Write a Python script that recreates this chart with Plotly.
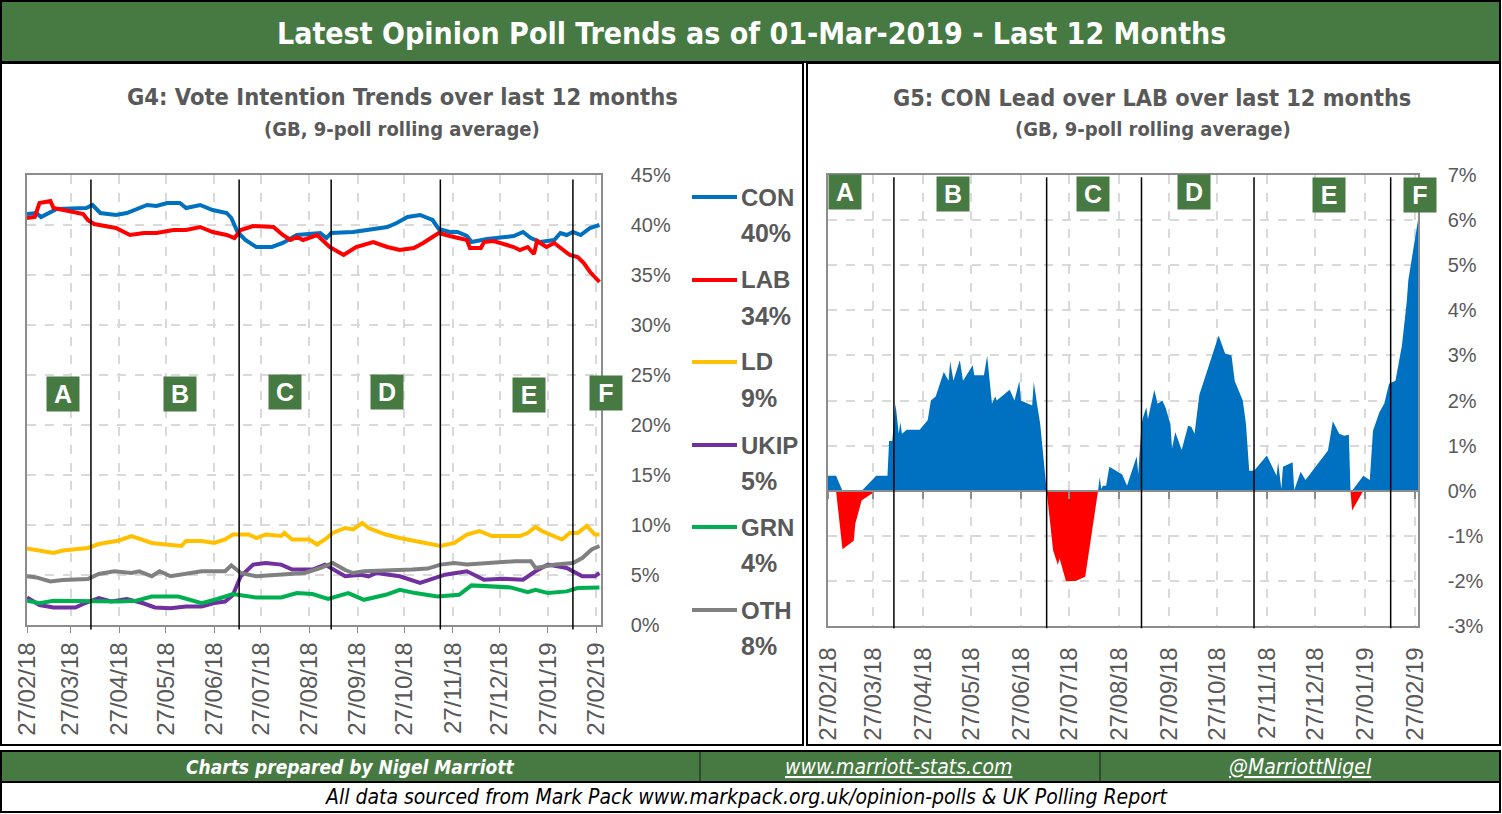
import plotly.graph_objects as go

# ---------------- DATA ----------------
tick_dates = ["2018-02-27", "2018-03-27", "2018-04-27", "2018-05-27", "2018-06-27",
              "2018-07-27", "2018-08-27", "2018-09-27", "2018-10-27", "2018-11-27",
              "2018-12-27", "2019-01-27", "2019-02-27"]
phase_dates = ["2018-04-09", "2018-07-13", "2018-09-10", "2018-11-19", "2019-02-12"]
phase_labels = ["A", "B", "C", "D", "E", "F"]
lead_ticks = [-3, -2, -1, 0, 1, 2, 3, 4, 5, 6, 7]

con_dates = ["2018-02-27", "2018-03-05", "2018-03-08", "2018-03-18", "2018-04-06", "2018-04-10",
             "2018-04-15", "2018-04-25", "2018-05-02", "2018-05-08", "2018-05-15", "2018-05-21",
             "2018-05-28", "2018-06-05", "2018-06-09", "2018-06-18", "2018-06-26", "2018-07-05",
             "2018-07-08", "2018-07-12", "2018-07-17", "2018-07-24", "2018-08-03", "2018-08-10",
             "2018-08-19", "2018-09-03", "2018-09-07", "2018-09-10", "2018-09-24", "2018-10-03",
             "2018-10-16", "2018-10-22", "2018-10-29", "2018-11-06", "2018-11-14", "2018-11-18",
             "2018-11-25", "2018-11-30", "2018-12-06", "2018-12-09", "2018-12-19", "2019-01-05",
             "2019-01-11", "2019-01-16", "2019-01-22", "2019-01-31", "2019-02-04", "2019-02-08",
             "2019-02-12", "2019-02-17", "2019-02-23", "2019-03-01"]
con_vals = [41.1, 41.2, 40.8, 41.6, 41.7, 42.0, 41.2, 41.0, 41.2, 41.6, 42.0, 41.9,
            42.2, 42.2, 41.7, 42.0, 41.5, 41.2, 40.7, 39.3, 38.5, 37.8, 37.8, 38.2,
            39.0, 39.2, 38.7, 39.2, 39.3, 39.5, 39.8, 40.2, 40.8, 41.0, 40.5, 39.6,
            39.3, 39.3, 38.9, 38.3, 38.6, 38.9, 39.3, 38.7, 38.3, 38.5, 39.2, 39.0,
            39.3, 39.0, 39.7, 40.0]

lab_dates = ["2018-02-27", "2018-03-04", "2018-03-07", "2018-03-14", "2018-03-16", "2018-04-04",
             "2018-04-07", "2018-04-11", "2018-04-25", "2018-05-04", "2018-05-13", "2018-05-21",
             "2018-06-01", "2018-06-09", "2018-06-18", "2018-06-26", "2018-07-05", "2018-07-10",
             "2018-07-14", "2018-07-22", "2018-08-04", "2018-08-10", "2018-08-15", "2018-08-19",
             "2018-08-23", "2018-09-01", "2018-09-09", "2018-09-18", "2018-09-26", "2018-10-07",
             "2018-10-16", "2018-10-24", "2018-11-02", "2018-11-08", "2018-11-15", "2018-11-18",
             "2018-11-25", "2018-12-06", "2018-12-08", "2018-12-15", "2018-12-17", "2018-12-23",
             "2019-01-05", "2019-01-09", "2019-01-14", "2019-01-18", "2019-01-20", "2019-01-26",
             "2019-01-31", "2019-02-04", "2019-02-10", "2019-02-15", "2019-02-19", "2019-02-23",
             "2019-03-01"]
lab_vals = [40.7, 40.8, 42.2, 42.4, 41.7, 41.1, 40.5, 40.1, 39.7, 39.0, 39.2, 39.2,
            39.5, 39.5, 39.8, 39.3, 39.0, 38.7, 39.5, 39.9, 39.8, 39.0, 38.5, 38.8,
            38.5, 39.0, 37.8, 37.0, 37.8, 38.3, 37.8, 37.5, 37.7, 38.2, 38.9, 39.2,
            38.9, 38.5, 37.7, 37.7, 38.3, 38.4, 37.8, 37.5, 37.8, 37.1, 38.4, 37.8,
            38.2, 37.7, 37.0, 36.8, 36.2, 35.3, 34.3]

ld_dates = ["2018-02-27", "2018-03-07", "2018-03-16", "2018-03-22", "2018-04-07", "2018-04-14",
            "2018-04-27", "2018-05-05", "2018-05-18", "2018-05-27", "2018-06-06", "2018-06-09",
            "2018-06-19", "2018-06-27", "2018-07-04", "2018-07-09", "2018-07-19", "2018-07-24",
            "2018-07-30", "2018-08-09", "2018-08-11", "2018-08-16", "2018-08-27", "2018-09-01",
            "2018-09-06", "2018-09-11", "2018-09-19", "2018-09-24", "2018-09-30", "2018-10-04",
            "2018-10-15", "2018-10-24", "2018-11-03", "2018-11-19", "2018-11-28", "2018-12-06",
            "2018-12-14", "2018-12-22", "2019-01-09", "2019-01-14", "2019-01-19", "2019-01-23",
            "2019-02-05", "2019-02-10", "2019-02-15", "2019-02-21", "2019-02-26", "2019-03-01"]
ld_vals = [7.65, 7.4, 7.2, 7.45, 7.7, 8.1, 8.45, 8.9, 8.2, 8.05, 7.9, 8.4,
           8.4, 8.2, 8.55, 9.05, 9.05, 8.7, 9.05, 8.9, 9.2, 8.55, 8.55, 8.05,
           8.55, 9.2, 9.7, 9.55, 10.2, 9.7, 9.05, 8.7, 8.4, 7.9, 8.2, 9.05,
           9.4, 8.9, 8.9, 9.2, 9.8, 9.4, 8.55, 9.2, 9.2, 9.9, 9.05, 9.05]

ukip_dates = ["2018-02-27", "2018-03-07", "2018-03-16", "2018-03-30", "2018-04-04", "2018-04-14",
              "2018-04-22", "2018-05-02", "2018-05-12", "2018-05-20", "2018-05-30", "2018-06-09",
              "2018-06-19", "2018-06-27", "2018-07-04", "2018-07-09", "2018-07-14", "2018-07-22",
              "2018-07-30", "2018-08-09", "2018-08-16", "2018-08-29", "2018-09-06", "2018-09-13",
              "2018-09-19", "2018-09-29", "2018-10-04", "2018-10-09", "2018-10-24", "2018-11-06",
              "2018-11-17", "2018-11-22", "2018-12-06", "2018-12-17", "2018-12-29", "2019-01-11",
              "2019-01-19", "2019-01-27", "2019-02-08", "2019-02-18", "2019-02-26", "2019-03-01"]
ukip_vals = [2.75, 2.0, 1.75, 1.75, 2.1, 2.7, 2.35, 2.6, 2.2, 1.75, 1.68, 1.85,
             1.85, 2.2, 2.35, 3.0, 4.87, 6.04, 6.2, 6.04, 5.54, 5.54, 6.04, 5.37,
             4.87, 5.03, 4.87, 5.2, 4.87, 4.2, 4.7, 5.03, 5.37, 4.53, 4.63, 4.53,
             5.37, 6.04, 5.7, 4.87, 4.87, 5.2]

grn_dates = ["2018-02-27", "2018-03-07", "2018-03-16", "2018-04-04", "2018-04-27", "2018-05-08",
             "2018-05-18", "2018-06-04", "2018-06-19", "2018-06-29", "2018-07-09", "2018-07-24",
             "2018-08-09", "2018-08-19", "2018-08-29", "2018-09-08", "2018-09-21", "2018-10-01",
             "2018-10-15", "2018-10-24", "2018-11-03", "2018-11-17", "2018-12-01", "2018-12-09",
             "2019-01-03", "2019-01-14", "2019-01-19", "2019-01-27", "2019-02-08", "2019-02-15",
             "2019-03-01"]
grn_vals = [2.42, 2.18, 2.42, 2.35, 2.35, 2.42, 2.85, 2.85, 2.18, 2.6, 3.09, 2.75,
            2.75, 3.19, 3.09, 2.6, 3.19, 2.52, 3.02, 3.52, 3.19, 2.85, 3.02, 3.96,
            3.76, 3.29, 3.52, 3.19, 3.36, 3.69, 3.76]

oth_dates = ["2018-02-27", "2018-03-05", "2018-03-14", "2018-03-22", "2018-04-07", "2018-04-14",
             "2018-04-24", "2018-05-05", "2018-05-10", "2018-05-18", "2018-05-23", "2018-05-30",
             "2018-06-19", "2018-07-04", "2018-07-08", "2018-07-14", "2018-07-24", "2018-08-14",
             "2018-08-24", "2018-09-03", "2018-09-11", "2018-09-19", "2018-09-24", "2018-10-01",
             "2018-10-19", "2018-11-01", "2018-11-11", "2018-11-19", "2018-11-28", "2018-12-06",
             "2019-01-06", "2019-01-16", "2019-01-19", "2019-02-01", "2019-02-12", "2019-02-18",
             "2019-02-24", "2019-03-01"]
oth_vals = [4.87, 4.76, 4.36, 4.5, 4.6, 5.1, 5.37, 5.2, 5.37, 4.87, 5.37, 4.87,
            5.37, 5.37, 5.97, 5.2, 4.87, 5.03, 5.2, 5.7, 6.2, 5.5, 5.2, 5.37,
            5.44, 5.54, 5.64, 6.04, 6.2, 6.04, 6.38, 6.38, 5.7, 6.04, 6.2, 6.7,
            7.55, 7.9]

lead_dates = ["2018-02-27", "2018-03-04", "2018-03-08", "2018-03-15", "2018-03-16", "2018-03-20",
              "2018-03-29", "2018-04-05", "2018-04-06", "2018-04-08", "2018-04-10", "2018-04-12",
              "2018-04-13", "2018-04-14", "2018-04-17", "2018-04-25", "2018-04-30", "2018-05-02",
              "2018-05-05", "2018-05-10", "2018-05-13", "2018-05-14", "2018-05-16", "2018-05-20",
              "2018-05-22", "2018-05-28", "2018-05-29", "2018-06-04", "2018-06-06", "2018-06-07",
              "2018-06-09", "2018-06-11", "2018-06-12", "2018-06-20", "2018-06-23", "2018-06-26",
              "2018-06-27", "2018-07-04", "2018-07-05", "2018-07-07", "2018-07-09", "2018-07-13",
              "2018-07-15", "2018-07-17", "2018-07-20", "2018-07-21", "2018-07-25", "2018-07-31",
              "2018-08-06", "2018-08-11", "2018-08-14", "2018-08-15", "2018-08-16", "2018-08-17",
              "2018-08-19", "2018-08-21", "2018-08-29", "2018-09-01", "2018-09-07", "2018-09-08",
              "2018-09-10", "2018-09-11", "2018-09-13", "2018-09-14", "2018-09-18", "2018-09-20",
              "2018-09-23", "2018-09-25", "2018-09-28", "2018-09-29", "2018-10-01", "2018-10-05",
              "2018-10-09", "2018-10-11", "2018-10-13", "2018-10-16", "2018-10-23", "2018-10-28",
              "2018-11-01", "2018-11-05", "2018-11-07", "2018-11-12", "2018-11-14", "2018-11-16",
              "2018-11-19", "2018-11-27", "2018-12-03", "2018-12-04", "2018-12-06", "2018-12-07",
              "2018-12-13", "2018-12-14", "2018-12-18", "2018-12-21", "2019-01-04", "2019-01-07",
              "2019-01-11", "2019-01-14", "2019-01-17", "2019-01-18", "2019-01-19", "2019-01-26",
              "2019-01-30", "2019-02-01", "2019-02-05", "2019-02-08", "2019-02-11", "2019-02-15",
              "2019-02-19", "2019-02-22", "2019-02-23", "2019-03-01"]
lead_vals = [0.33, 0.33, -1.30, -1.11, -0.73, -0.21,
             0.33, 0.33, 1.10, 1.10, 1.93, 1.26,
             1.52, 1.26, 1.35, 1.35, 1.56, 2.00,
             2.09, 2.63, 2.44, 2.87, 2.44, 2.89,
             2.44, 2.78, 2.56, 2.56, 2.99, 2.67,
             1.93, 2.09, 2.00, 2.24, 2.00, 2.43,
             2.00, 1.89, 2.41, 1.93, 1.48, 0.00,
             -0.65, -1.32, -1.65, -1.50, -2.00, -2.00,
             -1.91, -0.65, 0.00, 0.30, 0.04, 0.11,
             0.11, 0.53, 0.36, 0.11, 0.76, 0.37,
             1.48, 1.63, 1.85, 1.59, 2.24, 1.93,
             2.00, 1.84, 1.48, 0.93, 1.30, 0.90,
             1.44, 1.42, 1.26, 2.13, 2.89, 3.44,
             3.04, 3.00, 2.43, 2.00, 1.48, 0.44,
             0.44, 0.78, 0.33, 0.63, 0.04, 0.53,
             0.63, 0.01, 0.42, 0.24, 0.89, 1.54,
             1.26, 1.22, 1.24, 0.00, -0.44, 0.33,
             0.24, 1.33, 1.74, 1.93, 2.37, 2.44,
             3.22, 4.19, 4.67, 6.00]

parties = ["CON", "LAB", "LD", "UKIP", "GRN", "OTH"]
party_dates = [con_dates, lab_dates, ld_dates, ukip_dates, grn_dates, oth_dates]
party_vals = [con_vals, lab_vals, ld_vals, ukip_vals, grn_vals, oth_vals]
party_colors = ["#0070C0", "#FF0000", "#FFC000", "#7030A0", "#00B050", "#808080"]

# ---------------- LAYOUT HELPERS ----------------
W, H = 1502, 814
def px(x):
    return x / W
def py(y):
    return 1 - y / H

GREEN = "#467A42"
GREY_TXT = "#595959"
GRID = "#D9D9D9"
BORDER = "#8C8C8C"
NARROW = "Liberation Sans Narrow, DejaVu Sans Condensed, Arial Narrow, sans-serif"
REG = "Liberation Sans, Arial, sans-serif"

fig = go.Figure()

for name, d, v, c in zip(parties, party_dates, party_vals, party_colors):
    fig.add_trace(go.Scatter(x=d, y=v, mode="lines", name=name,
                             line=dict(color=c, width=4), xaxis="x", yaxis="y",
                             hoverinfo="skip"))

lead_pos = [max(v, 0) for v in lead_vals]
lead_neg = [min(v, 0) for v in lead_vals]
fig.add_trace(go.Scatter(x=lead_dates, y=lead_pos, mode="lines", fill="tozeroy",
                         fillcolor="#0070C0", line=dict(width=0, color="#0070C0"),
                         xaxis="x2", yaxis="y2", hoverinfo="skip"))
fig.add_trace(go.Scatter(x=lead_dates, y=lead_neg, mode="lines", fill="tozeroy",
                         fillcolor="#FF0000", line=dict(width=0, color="#FF0000"),
                         xaxis="x3", yaxis="y2", hoverinfo="skip"))

L_DOM_X = [px(27), px(601)]
L_DOM_Y = [py(625), py(175)]
R_DOM_X = [px(828), px(1418)]
R_DOM_Y = [py(626), py(175)]
r_lo, r_hi = lead_ticks[0], lead_ticks[-1]
zero_pos = R_DOM_Y[0] + (0 - r_lo) / (r_hi - r_lo) * (R_DOM_Y[1] - R_DOM_Y[0])

date_font = dict(family=REG, size=24, color=GREY_TXT)
val_font = dict(family=REG, size=20, color=GREY_TXT)

fig.update_layout(
    template="none",
    width=W, height=H, autosize=False,
    margin=dict(l=0, r=0, t=0, b=0, pad=0, autoexpand=False),
    paper_bgcolor="white", plot_bgcolor="rgba(0,0,0,0)", showlegend=False,
    xaxis=dict(type="date", domain=L_DOM_X, range=["2018-02-27", "2019-03-02"],
               tickvals=tick_dates, tickformat="%d/%m/%y", tickangle=-90, tickfont=date_font,
               showgrid=True, gridcolor=GRID, griddash="dash", gridwidth=1.5,
               ticks="outside", ticklen=6, tickcolor=BORDER, showline=True, linecolor=BORDER,
               linewidth=1.5, mirror=True, anchor="y", zeroline=False, automargin=False),
    yaxis=dict(domain=L_DOM_Y, range=[0, 45], dtick=5, side="right", ticksuffix="%",
               tickfont=val_font, showgrid=True, gridcolor=GRID, griddash="dash", gridwidth=1.5,
               showline=True, linecolor=BORDER, linewidth=1.5, mirror=True, anchor="x",
               ticks="", ticklabelstandoff=24, zeroline=False, automargin=False),
    xaxis2=dict(type="date", domain=R_DOM_X, range=["2018-02-27", "2019-03-01"],
                tickvals=tick_dates, tickformat="%d/%m/%y", tickangle=-90, tickfont=date_font,
                showgrid=True, gridcolor=GRID, griddash="dash", gridwidth=1.5,
                ticks="", showline=True, linecolor=BORDER, linewidth=1.5, mirror=True,
                anchor="y2", zeroline=False, ticklabelstandoff=10, automargin=False),
    xaxis3=dict(type="date", overlaying="x2", range=["2018-02-27", "2019-03-01"],
                tickvals=tick_dates, showticklabels=False, ticks="outside", ticklen=7,
                tickcolor=BORDER, tickwidth=1.5, showline=True, linecolor=BORDER, linewidth=2,
                showgrid=False, zeroline=False, anchor="free", position=zero_pos,
                automargin=False),
    yaxis2=dict(domain=R_DOM_Y, range=[r_lo, r_hi], tickvals=lead_ticks,
                ticktext=["%d%%" % t for t in lead_ticks], side="right",
                tickfont=val_font, showgrid=True, gridcolor=GRID, griddash="dash", gridwidth=1.5,
                showline=True, linecolor=BORDER, linewidth=1.5, mirror=True, anchor="x2",
                ticks="", ticklabelstandoff=24, zeroline=False, automargin=False),
)

shapes = []
def rect(x0, y0, x1, y1, fill, line="black", lw=1.5):
    shapes.append(dict(type="rect", xref="paper", yref="paper", x0=px(x0), x1=px(x1),
                       y0=py(y1), y1=py(y0), fillcolor=fill,
                       line=dict(color=line, width=lw), layer="below"))

rect(1, 1, 1500, 62, GREEN, lw=2)
rect(1, 63, 803, 745, "white", lw=2)
rect(807, 63, 1500, 745, "white", lw=2)
rect(1, 751, 1500, 782, GREEN, lw=2)
rect(1, 782, 1500, 812, "white", lw=2)
for xd in (700, 1100):
    shapes.append(dict(type="line", xref="paper", yref="paper", x0=px(xd), x1=px(xd),
                       y0=py(782), y1=py(751), line=dict(color="#1a1a1a", width=1)))

for d in phase_dates:
    shapes.append(dict(type="line", xref="x", yref="y domain", x0=d, x1=d, y0=-0.01, y1=0.99,
                       line=dict(color="black", width=1.5)))
    shapes.append(dict(type="line", xref="x2", yref="y2 domain", x0=d, x1=d, y0=-0.005, y1=0.995,
                       line=dict(color="black", width=1.5)))

leg_y = [197, 280, 362, 445, 527, 610]
for c, yy in zip(party_colors, leg_y):
    shapes.append(dict(type="line", xref="paper", yref="paper", x0=px(692), x1=px(737),
                       y0=py(yy), y1=py(yy), line=dict(color=c, width=4)))

fig.update_layout(shapes=shapes)

ann = []
def text(x, y, s, size, color, family=NARROW, xanchor="center", **kw):
    ann.append(dict(xref="paper", yref="paper", x=px(x), y=py(y), text=s, showarrow=False,
                    xanchor=xanchor, yanchor="middle",
                    font=dict(family=family, size=size, color=color), **kw))

text(751, 33, "<b>Latest Opinion Poll Trends as of 01-Mar-2019 - Last 12 Months</b>", 30, "white")
text(402, 97, "<b>G4: Vote Intention Trends over last 12 months</b>", 23.5, GREY_TXT)
text(402, 129, "<b>(GB, 9-poll rolling average)</b>", 20, GREY_TXT)
text(1152, 97, "<b>G5: CON Lead over LAB over last 12 months</b>", 23.3, GREY_TXT)
text(1153, 129, "<b>(GB, 9-poll rolling average)</b>", 20, GREY_TXT)

for name, v, yy in zip(parties, party_vals, leg_y):
    text(739, yy, "<b>%s</b>" % name, 24, GREY_TXT, family=REG, xanchor="left")
    text(739, yy + 36, "<b>%d%%</b>" % round(v[-1]), 25, GREY_TXT, family=REG, xanchor="left")

left_box_x = [63, 180, 285, 387, 529, 606]
left_box_y = [394, 394, 392, 392, 395, 393]
right_box_x = [845, 953, 1093, 1194, 1329, 1420]
right_box_y = [192, 194, 194, 192, 195, 195]
for lab, bx, by in zip(phase_labels, left_box_x, left_box_y):
    text(bx, by, "<b>%s</b>" % lab, 25, "white", family=REG, bgcolor=GREEN, width=30, height=32)
for lab, bx, by in zip(phase_labels, right_box_x, right_box_y):
    text(bx, by, "<b>%s</b>" % lab, 25, "white", family=REG, bgcolor=GREEN, width=30, height=32)

text(350, 767, "<b><i>Charts prepared by Nigel Marriott</i></b>", 19, "white")
text(898, 767, "<u><i>www.marriott-stats.com</i></u>", 21, "white")
text(1300, 767, "<u><i>@MarriottNigel</i></u>", 21, "white")
text(746, 797, "<i>All data sourced from Mark Pack www.markpack.org.uk/opinion-polls &amp; UK Polling Report</i>", 21, "black")

fig.update_layout(annotations=ann)
fig.write_html(
    "out.html",
    post_script="document.body.style.margin='0';document.body.style.padding='0';"
                "document.documentElement.style.overflow='hidden';document.body.style.overflow='hidden';",
)
